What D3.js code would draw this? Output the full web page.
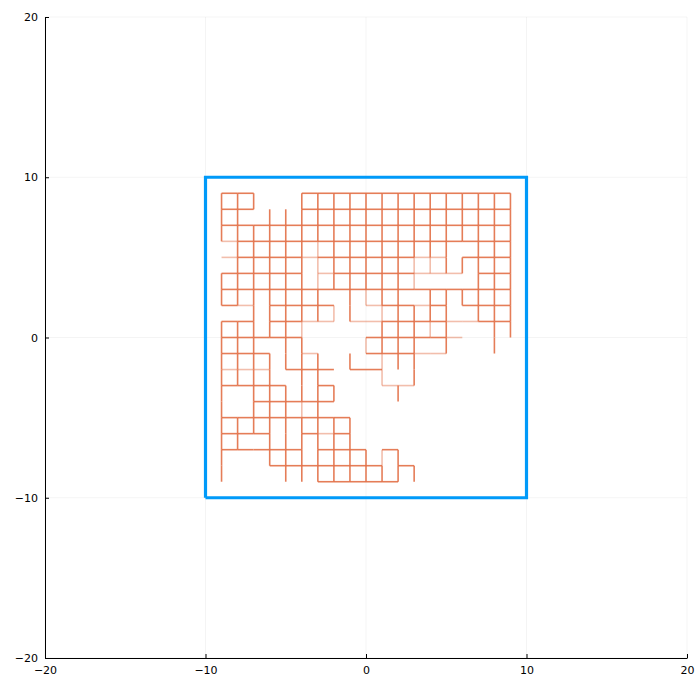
<!DOCTYPE html>
<html lang="en">
<head>
<meta charset="UTF-8">
<title>Lattice walk</title>
<script src="https://d3js.org/d3.v7.min.js"></script>
<style>
  body { margin: 0; background: #fff; }
  .axis text { font-family: "DejaVu Sans", sans-serif; font-size: 11px; fill: #000; }
  .axis path, .axis line { stroke: #000; }
  .grid line { stroke: #000; stroke-opacity: 0.08; stroke-width: 0.6; }
</style>
</head>
<body>
<div id="chart"></div>
<script>
// axis ticks
const xTicks = [-20, -10, 0, 10, 20];
const yTicks = [-20, -10, 0, 10, 20];

// blue bounding square (corners)
const boxX = [-10, 10, 10, -10, -10];
const boxY = [-10, -10, 10, 10, -10];

// walk edges: '.' none, '1' faint, '2' solid
// horizontal edges, one row per y (9 down to -9), columns x = -9..8 (edge x -> x+1)
const hRowY = [9, 8, 7, 6, 5, 4, 3, 2, 1, 0, -1, -2, -3, -4, -5, -6, -7, -8, -9];
const hRows = [
  "22...2222222222222",
  "22...2222222222222",
  "222222222222222222",
  "122222222222222222",
  "12222122222211.222",
  "22222.122222111.22",
  "222222222222222222",
  "21.2222..12212.222",
  "22.2211.1122221122",
  "22222....222221...",
  "222..1...22211....",
  "111.222.22........",
  "2222..2...11......",
  "..22222...........",
  "22222222..........",
  "222..212..........",
  "22222.222.2.......",
  "...2222222.2......",
  "......22222......."
];
// vertical edges, one row per step y -> y-1 (9 down to -8), columns x = -9..9
const vRowY = [9, 8, 7, 6, 5, 4, 3, 2, 1, 0, -1, -2, -3, -4, -5, -6, -7, -8];
const vRows = [
  "222..22222222222222",
  "22.2222222222222222",
  "2222222222222222222",
  ".22222122222222.222",
  ".222221222221122222",
  "2222221222221...222",
  "2222222.2122.222222",
  "..2222212.12222.222",
  "222221....22212..22",
  "222.22...1222.2..2.",
  "2222222.2.122......",
  "2222.22...1.2......",
  "2.222222...2.......",
  "2.22212............",
  "222222222..........",
  "22.222222..........",
  "2..222222212.......",
  "2...222222222......"
];

const W = 700, H = 700;
const svg = d3.select("#chart").append("svg")
  .attr("width", W).attr("height", H);

const x = d3.scaleLinear().domain([-20, 20]).range([45, 687]);
const y = d3.scaleLinear().domain([-20, 20]).range([658, 17]);

// faint grid
const grid = svg.append("g").attr("class", "grid");
grid.selectAll(".gx").data(xTicks).enter().append("line")
  .attr("x1", d => x(d)).attr("x2", d => x(d))
  .attr("y1", y(-20)).attr("y2", y(20));
grid.selectAll(".gy").data(yTicks).enter().append("line")
  .attr("y1", d => y(d)).attr("y2", d => y(d))
  .attr("x1", x(-20)).attr("x2", x(20));

const fmt = d => (d < 0 ? "\u2212" + Math.abs(d) : String(d));

svg.append("g").attr("class", "axis")
  .attr("transform", `translate(0,${y(-20)})`)
  .call(d3.axisBottom(x).tickValues(xTicks).tickFormat(fmt).tickSizeInner(-4).tickSizeOuter(0).tickPadding(8));

svg.append("g").attr("class", "axis")
  .attr("transform", `translate(${x(-20)},0)`)
  .call(d3.axisLeft(y).tickValues(yTicks).tickFormat(fmt).tickSizeInner(-4).tickSizeOuter(0).tickPadding(7));

// build edge list
const edges = [];
hRows.forEach((row, i) => {
  for (let k = 0; k < row.length; k++) {
    if (row[k] === ".") continue;
    edges.push({ x1: -9 + k, y1: hRowY[i], x2: -8 + k, y2: hRowY[i], w: +row[k] });
  }
});
vRows.forEach((row, i) => {
  for (let k = 0; k < row.length; k++) {
    if (row[k] === ".") continue;
    edges.push({ x1: -9 + k, y1: vRowY[i], x2: -9 + k, y2: vRowY[i] - 1, w: +row[k] });
  }
});

svg.append("g").selectAll("line").data(edges).enter().append("line")
  .attr("x1", d => x(d.x1)).attr("y1", d => y(d.y1))
  .attr("x2", d => x(d.x2)).attr("y2", d => y(d.y2))
  .attr("stroke", "#e26f46")
  .attr("stroke-width", 1.6)
  .attr("stroke-opacity", d => d.w === 1 ? 0.45 : 0.9);

// blue square
const boxPts = boxX.map((v, i) => [v, boxY[i]]);
svg.append("path")
  .datum(boxPts)
  .attr("d", d3.line().x(d => x(d[0])).y(d => y(d[1])))
  .attr("fill", "none")
  .attr("stroke", "#009af9")
  .attr("stroke-width", 3.2);
</script>
</body>
</html>
